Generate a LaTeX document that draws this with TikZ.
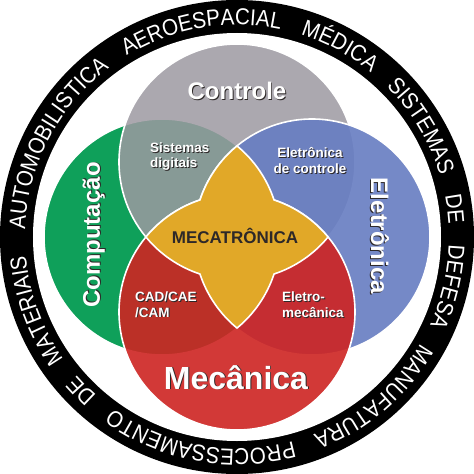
\documentclass[tikz,border=0pt]{standalone}
\usepackage{fontspec}
\setmainfont{Liberation Sans}
\newfontfamily\ringfamily[FakeStretch=0.9]{Liberation Sans}
\usetikzlibrary{decorations.text}
\definecolor{cgreen}{RGB}{15,160,90}
\definecolor{cgray}{RGB}{157,153,161}
\definecolor{cblue}{RGB}{103,125,194}
\definecolor{cred}{RGB}{206,36,34}
\definecolor{corange}{RGB}{225,168,40}
\definecolor{cshade}{RGB}{45,40,40}
\newcommand{\shd}[1]{\makebox[0pt][l]{\kern0.9pt\raisebox{-0.9pt}{\color{cshade}#1}}#1}

\begin{document}
\begin{tikzpicture}[x=1pt,y=1pt,
	area/.style={circle,draw=white,line width=1.6pt,minimum size=236pt,inner sep=0pt},
	bigtxt/.style={text=white,inner sep=0pt,font=\bfseries\fontsize{24}{24}\selectfont},
	smalltxt/.style={text=white,inner sep=0pt,font=\bfseries\fontsize{13.5}{15.5}\selectfont}]
	\useasboundingbox (-237,-237) rectangle (237,237);
	
	\fill[black] (0,0) circle (237);
	\fill[white] (0,0) circle (204);
	\path[decorate,decoration={text along path,text align={fit to path stretching spaces},text color=white,
		text={|\ringfamily\fontsize{23}{23}\selectfont|AUTOMOBILISTICA AEROESPACIAL MÉDICA SISTEMAS DE DEFESA MANUFATURA PROCESSAMENTO DE MATERIAIS}}]
		(178:212) arc[start angle=178,end angle=-175,radius=212];
	
	\node (comp) at (-75,0) [area, fill=cgreen] {};
	\node (ctrl) at (0,75) [area, fill=cgray, fill opacity=0.85] {};
	\node (elet) at (75,0) [area, fill=cblue, fill opacity=0.9] {};
	\node (mec) at (0,-75) [area, fill=cred, fill opacity=0.9] {};
	
	\draw[white, line width=1.6pt, fill=corange] (0,91.1)
		arc[start angle=129.47,end angle=161.71,radius=118]
		arc[start angle=108.29,end angle=140.53,radius=118]
		arc[start angle=219.47,end angle=251.71,radius=118]
		arc[start angle=198.29,end angle=230.53,radius=118]
		arc[start angle=309.47,end angle=341.71,radius=118]
		arc[start angle=288.29,end angle=320.53,radius=118]
		arc[start angle=39.47,end angle=71.71,radius=118]
		arc[start angle=18.29,end angle=50.53,radius=118] -- cycle;
	
	\node (tctrl) at (0,146) [bigtxt] {\shd{Controle}};
	\node (tcomp) at (-137,2) [bigtxt, rotate=90, anchor=base] {\shd{Computação}};
	\node (telet) at (134,1) [bigtxt, rotate=-90, anchor=base] {\shd{Eletrônica}};
	\node (tmec) at (-1,-152) [bigtxt, anchor=base, font=\bfseries\fontsize{32}{32}\selectfont] {\shd{Mecânica}};
	\node (tmeca) at (-2,-6) [anchor=base, inner sep=0pt, text=cshade, font=\bfseries\fontsize{17}{17}\selectfont] {MECATRÔNICA};
	
	\node (sisdig) at (-87,80) [smalltxt, anchor=west, align=left] {\shd{Sistemas}\\\shd{digitais}};
	\node (eletctrl) at (73,76) [smalltxt, align=center] {\shd{Eletrônica}\\\shd{de controle}};
	\node (cad) at (-102,-68) [smalltxt, anchor=west, align=left] {\shd{CAD/CAE}\\\shd{/CAM}};
	\node (eletmec) at (45,-68) [smalltxt, anchor=west, align=left] {\shd{Eletro-}\\\shd{mecânica}};
	
\end{tikzpicture}
\end{document}
